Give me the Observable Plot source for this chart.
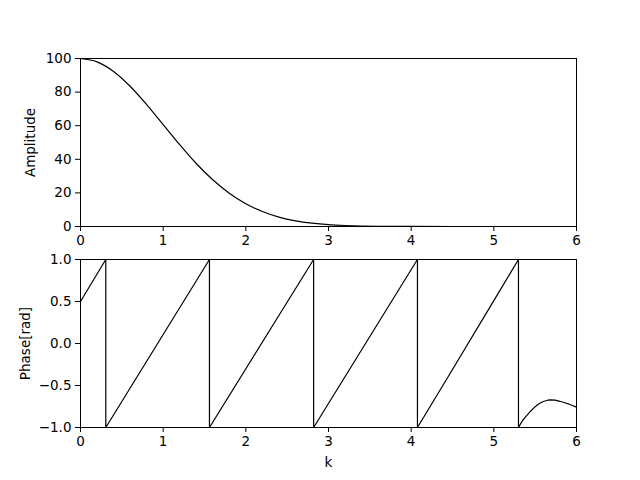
<!DOCTYPE html>
<html><head><meta charset="utf-8">
<script src="https://cdn.jsdelivr.net/npm/d3@7"></script>
<script src="https://cdn.jsdelivr.net/npm/@observablehq/plot@0.6"></script>
<style>body{margin:0;background:#fff} #chart svg{display:block}</style>
</head><body><div id="chart"></div><script>
const ampK = [0,0.2,0.4,0.6,0.8,1.0,1.2,1.4,1.6,1.8,2.0,2.2,2.4,2.6,2.8,3.0,3.2,3.4,3.6,3.8,4.0,4.5,5.0,5.5,6.0];
const ampValues = [100,98.0,92.3,83.5,72.6,60.7,48.7,37.5,27.8,19.8,13.5,8.9,5.6,3.4,2.0,1.1,0.6,0.3,0.15,0.07,0.03,0,0,0,0];
const phaseK = [0,0.306,0.306,1.56,1.56,2.82,2.82,4.076,4.076,4.5,5.0,5.298,5.298,5.33,5.36,5.40,5.45,5.50,5.55,5.60,5.65,5.69,5.74,5.80,5.85,5.90,5.95,6.0];
const phaseValues = [0.5,1,-1,1,-1,1,-1,1,-1,-0.31,0.51,1,-1,-0.945,-0.9,-0.855,-0.8,-0.752,-0.715,-0.69,-0.675,-0.67,-0.674,-0.688,-0.702,-0.718,-0.738,-0.758];
const kTicks = [0,1,2,3,4,5,6];
const ampTicks = [0,20,40,60,80,100];
const phaseTicks = [-1,-0.5,0,0.5,1];

const ampData = ampK.map((k,i)=>({k, v: ampValues[i]}));
const phaseData = phaseK.map((k,i)=>({k, v: phaseValues[i]}));
const chartStyle = {fontFamily:"DejaVu Sans", fontSize:"13.5px", color:"black", background:"white"};

const ampPlot = Plot.plot({
  width:640, height:250, marginLeft:80, marginRight:64, marginTop:58, marginBottom:24,
  style: chartStyle,
  x:{domain:[0,6]}, y:{domain:[0,100]},
  marks:[
    Plot.line(ampData,{x:"k",y:"v",stroke:"black",strokeWidth:1.2,curve:"monotone-x"}),
    Plot.frame({stroke:"black"}),
    Plot.axisX({ticks:kTicks,tickSize:5,tickPadding:4,label:null,tickFormat:d3.format("d")}),
    Plot.axisY({ticks:ampTicks,tickSize:5,tickPadding:4,label:null,tickFormat:d3.format("d")}),
    Plot.text(["Amplitude"],{text:d=>d,frameAnchor:"left",textAnchor:"middle",lineAnchor:"middle",dx:-50,rotate:-90,fontSize:13.5})
  ]
});
const phasePlot = Plot.plot({
  width:640, height:230, marginLeft:80, marginRight:64, marginTop:9, marginBottom:53,
  style: chartStyle,
  x:{domain:[0,6]}, y:{domain:[-1,1]},
  marks:[
    Plot.line(phaseData,{x:"k",y:"v",stroke:"black",strokeWidth:1.2}),
    Plot.frame({stroke:"black"}),
    Plot.axisX({ticks:kTicks,tickSize:5,tickPadding:4,label:null,tickFormat:d3.format("d")}),
    Plot.axisY({ticks:phaseTicks,tickSize:5,tickPadding:4,label:null,tickFormat:d3.format(".1f")}),
    Plot.text(["Phase[rad]"],{text:d=>d,frameAnchor:"left",textAnchor:"middle",lineAnchor:"middle",dx:-55,rotate:-90,fontSize:13.5}),
    Plot.text(["k"],{text:d=>d,frameAnchor:"bottom",textAnchor:"middle",lineAnchor:"middle",dy:35,fontSize:13.5})
  ]
});
document.getElementById("chart").append(ampPlot, phasePlot);
</script></body></html>
